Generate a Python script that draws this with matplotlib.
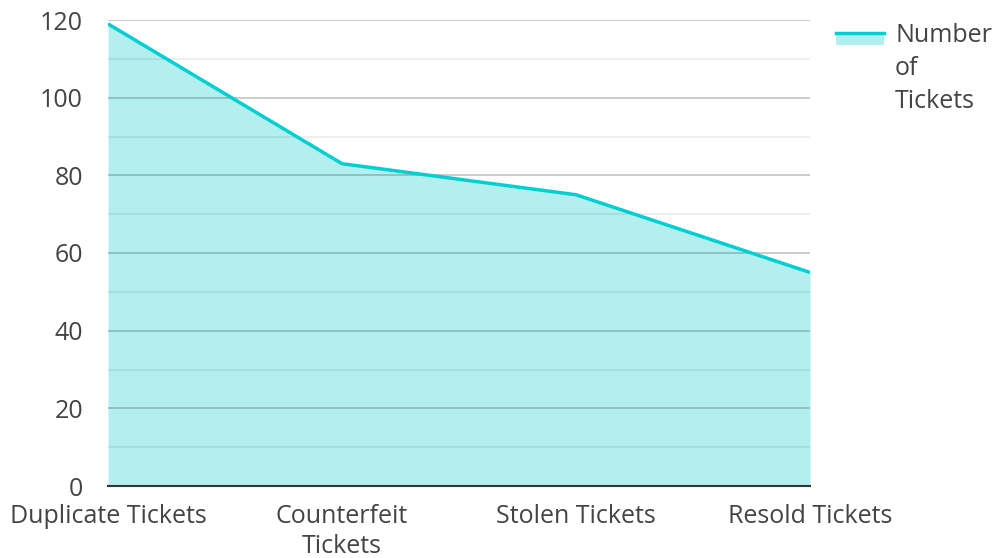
import matplotlib
matplotlib.use("Agg")
import matplotlib.pyplot as plt
from matplotlib.patches import Rectangle
from matplotlib.lines import Line2D
from matplotlib.legend_handler import HandlerBase

categories = ["Duplicate Tickets", "Counterfeit\nTickets", "Stolen Tickets", "Resold Tickets"]
values = [119, 83, 75, 55]
series_name = "Number\nof\nTickets"
yticks = [0, 20, 40, 60, 80, 100, 120]

LINE = "#00CED1"
FILL = "#B2EFEE"
TXT = "#444444"
FS = 18

plt.rcParams['font.family'] = ['Open Sans', 'DejaVu Sans']

fig = plt.figure(figsize=(9.96, 5.58), dpi=100)
ax = fig.add_axes([108/996, 1-486/558, (810-108)/996, (486-20)/558])

x = list(range(len(categories)))
ax.fill_between(x, values, 0, color=FILL, linewidth=0, zorder=1)
ax.plot(x, values, color=LINE, linewidth=2.5, zorder=3, solid_capstyle='butt')

ax.set_xlim(0, len(categories)-1)
ax.set_ylim(0, 120)
ax.set_yticks(yticks)
ax.set_yticks(range(10, 120, 20), minor=True)
ax.grid(True, which='major', axis='y', color='#1a1a1a', alpha=0.24, linewidth=1.3, zorder=2)
ax.grid(True, which='minor', axis='y', color='#1a1a1a', alpha=0.08, linewidth=1.3, zorder=2)
ax.set_axisbelow(False)
ax.set_xticks(x)
ax.set_xticklabels(categories, fontsize=FS, color=TXT, linespacing=1.25)
ax.tick_params(axis='y', labelsize=FS, labelcolor=TXT, length=0, pad=18)
ax.tick_params(axis='y', which='minor', length=0)
ax.tick_params(axis='x', length=0, pad=13)
for s in ['top', 'right', 'left']:
    ax.spines[s].set_visible(False)
ax.spines['bottom'].set_color('#333333')
ax.spines['bottom'].set_linewidth(1.5)
ax.spines['bottom'].set_zorder(4)


class Handler(HandlerBase):
    def create_artists(self, legend, orig, xd, yd, w, h, fontsize, trans):
        shift = 22
        top = yd + h + shift
        r = Rectangle((xd, top - 9), w, 9, facecolor=FILL, edgecolor='none', transform=trans)
        l = Line2D([xd, xd + w], [top, top], color=LINE, linewidth=2.5, transform=trans)
        return [r, l]

proxy = Rectangle((0, 0), 1, 1)
leg = fig.legend([proxy], [series_name], handler_map={Rectangle: Handler()},
                 loc='upper left', bbox_to_anchor=(836/996, 1-23/558),
                 frameon=False, fontsize=FS, handlelength=1.92, handleheight=0.6,
                 handletextpad=0.44, borderaxespad=0, borderpad=0)
for t in leg.get_texts():
    t.set_color(TXT)
    t.set_linespacing(1.43)

fig.savefig("out.png", dpi=100, facecolor='white')
